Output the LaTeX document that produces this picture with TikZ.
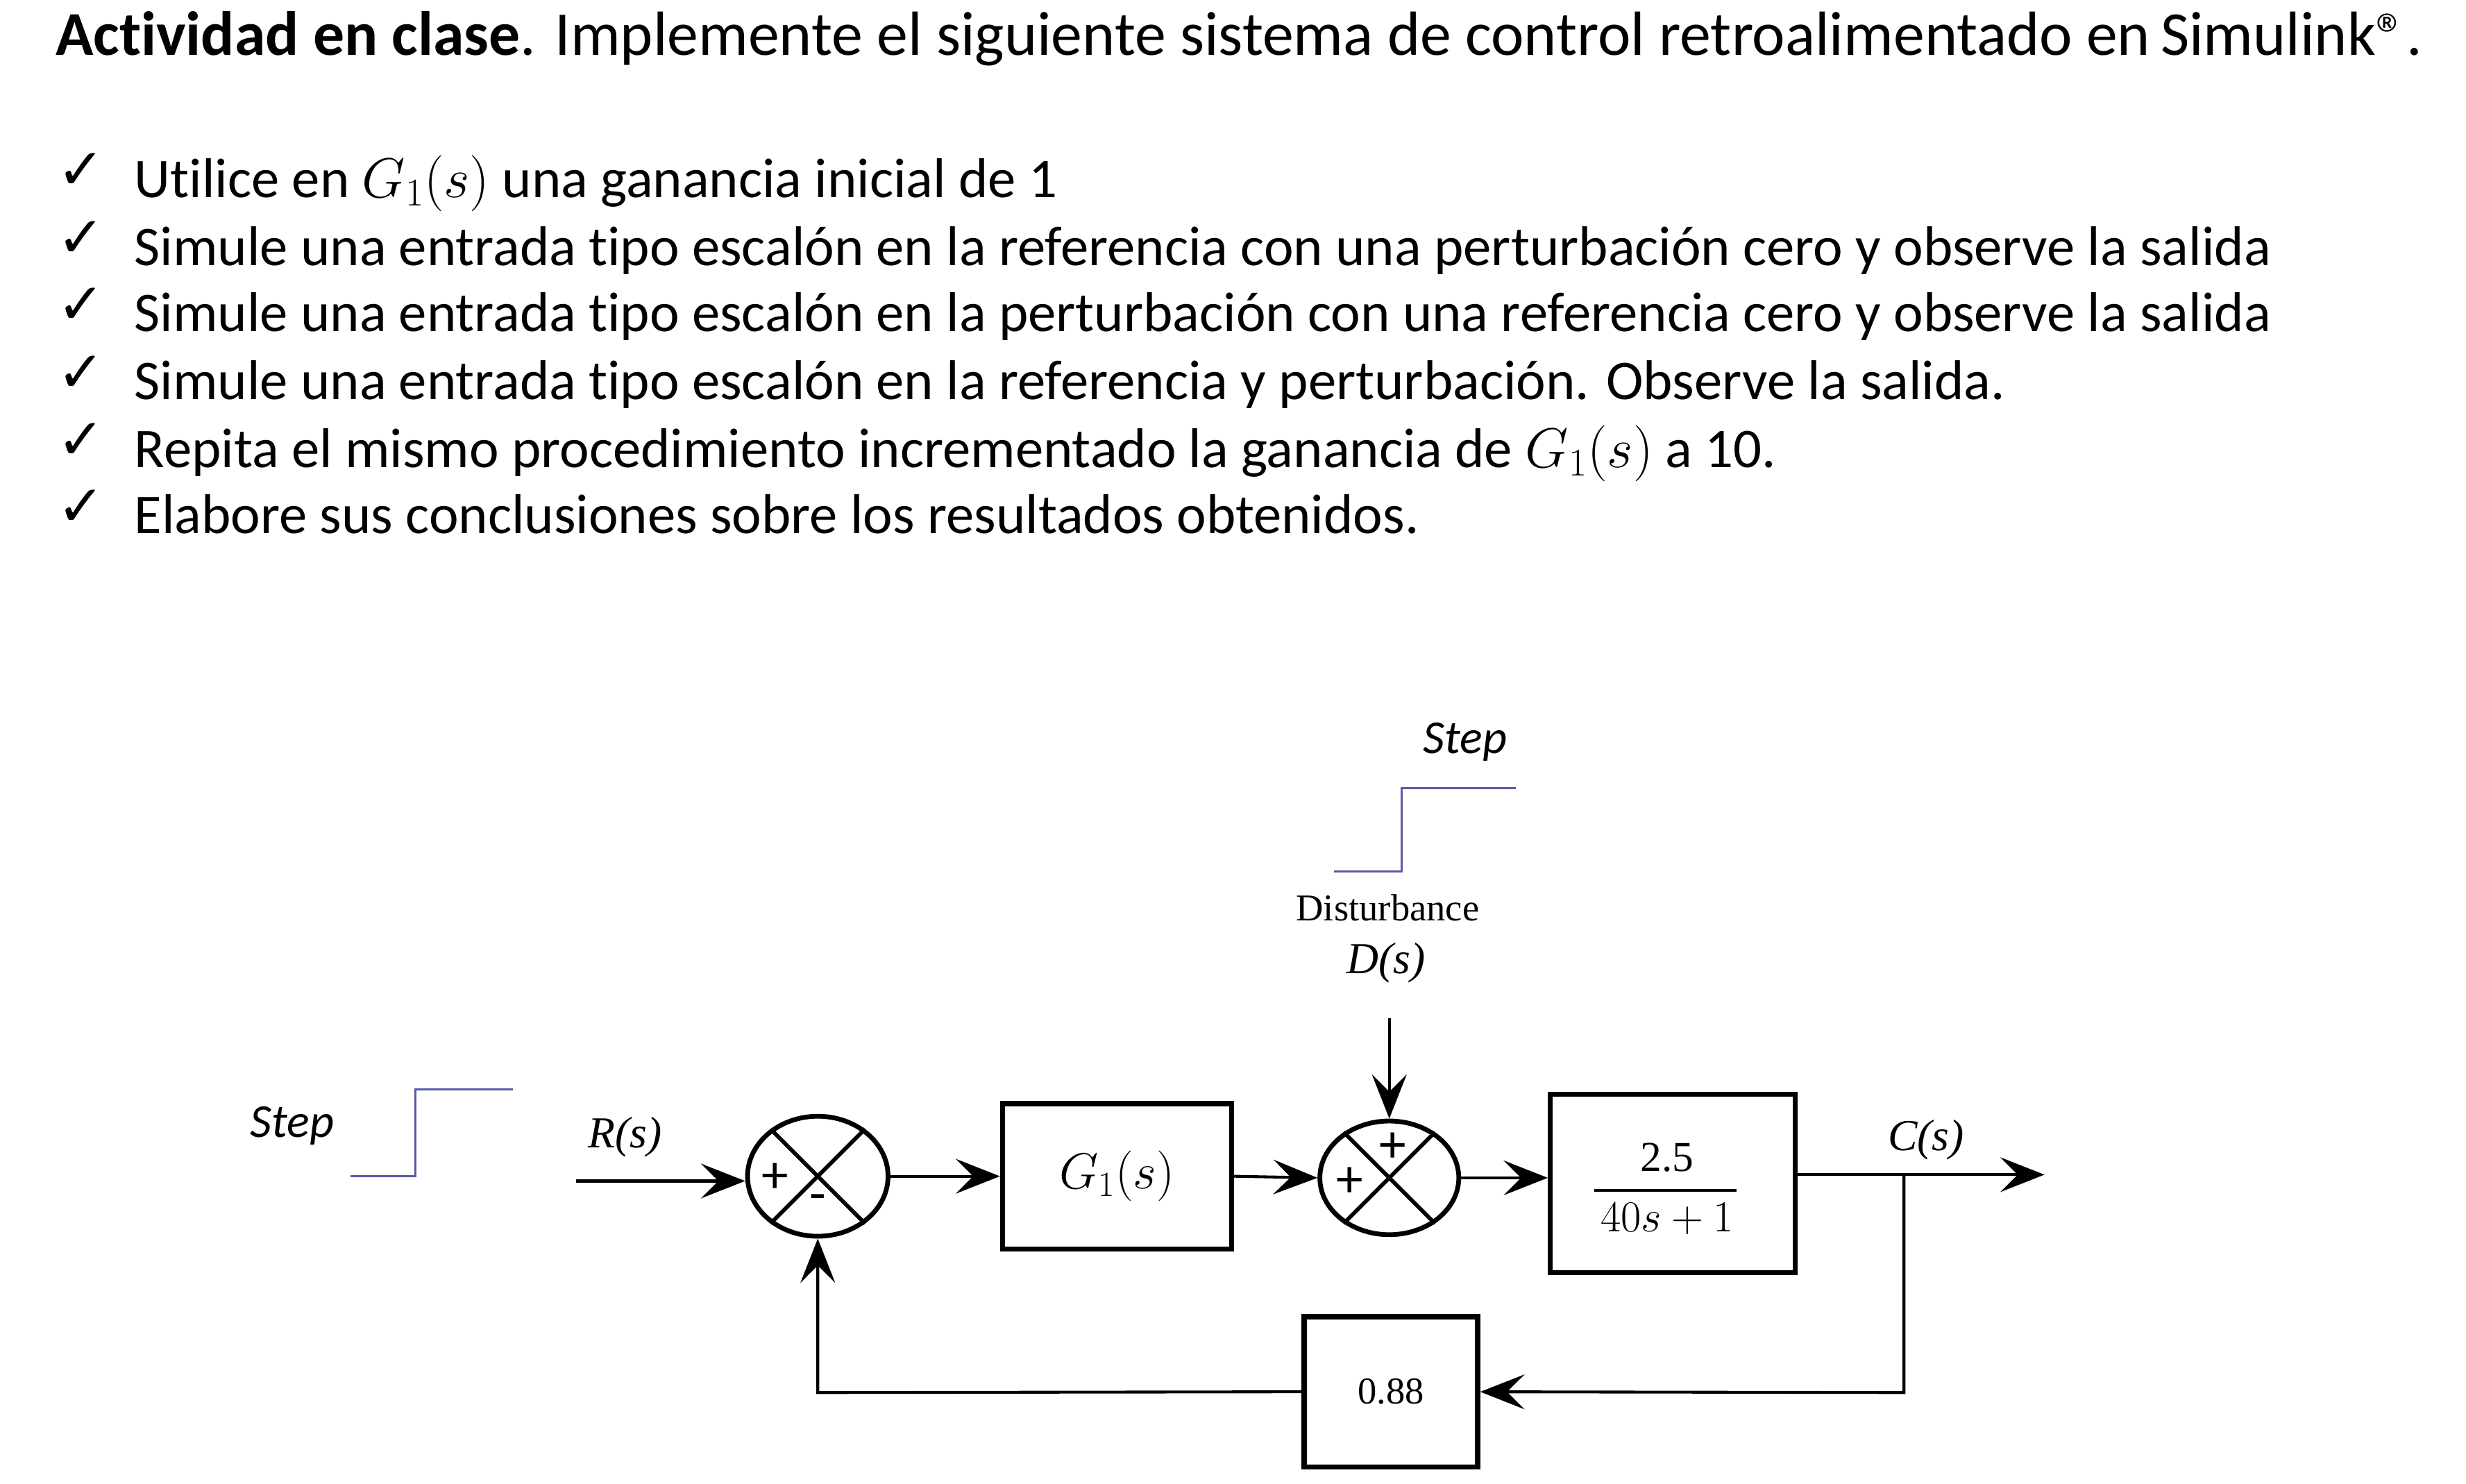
\RequirePackage{fix-cm}
\documentclass[tikz,border=0pt]{standalone}
\usepackage{amssymb}
\usepackage{fontspec}
\setmainfont{Carlito}[Ligatures=NoCommon]
\newfontfamily\tnr{Liberation Serif}
\newfontfamily\djv{DejaVu Sans}
\usetikzlibrary{arrows.meta,shapes.geometric}
\begin{document}
\begin{tikzpicture}[x=1pt,y=-1pt,
  txt/.style={anchor=base west,inner sep=0pt,font=\fontsize{35.5}{40}\selectfont},
  blk/.style={draw,line width=3.2pt,inner sep=0pt},
  sumj/.style={draw,ellipse,line width=3pt,inner sep=0pt},
  conn/.style={line width=1.8pt},
  arr/.style={conn,-{Stealth[length=28pt,width=22pt,inset=11pt]}},
  stepln/.style={line width=1.3pt,color=blue!30!gray},
  lbl/.style={inner sep=0pt,font=\fontsize{30}{34}\selectfont\itshape},
  sgn/.style={inner sep=0pt,font=\fontsize{34}{38}\selectfont}]
\useasboundingbox (0,0) rectangle (1562,939.5);
% text
\node[txt,font=\fontsize{39.5}{44}\selectfont] (title) at (35,35) {\textbf{Actividad en clase}. Implemente el siguiente sistema de control retroalimentado en\,Simulink{\fontsize{38}{38}\selectfont ®}.};
\foreach \y/\t [count=\i] in {125/{Utilice en $G_1(s)$ una ganancia inicial de 1},
 168/{Simule una entrada tipo escalón en la referencia con una perturbación cero y observe la salida},
 210/{Simule una entrada tipo escalón en la perturbación con una referencia cero y observe la salida},
 253/{Simule una entrada tipo escalón en la referencia y perturbación. Observe la salida.},
 296/{Repita el mismo procedimiento incrementado la ganancia de $G_1(s)$ a 10.},
 338/{Elabore sus conclusiones sobre los resultados obtenidos.}}{
  \node[txt,font=\fontsize{36}{40}\selectfont\djv] (ck\i) at (36,\y-5) {✓};
  \node[txt] (b\i) at (85,\y) {\t};
}
% diagram
\node[lbl] (step1) at (185,713) {Step};
\draw[stepln] (222,745) -- (263,745) -- (263,690) -- (325,690);
\node[lbl,font=\fontsize{28}{32}\selectfont\tnr\itshape] (R) at (396,720) {R(s)};
\coordinate (rin) at (365,748);
\node[sumj,minimum width=89pt,minimum height=76pt] (s1) at (518,745) {};
\draw[line width=2.5pt] (s1.45) -- (s1.225) (s1.135) -- (s1.315);
\node[sgn] (p1) at (491,746) {+};
\node[sgn] (m1) at (518,762) {-};
\node[blk,minimum width=145pt,minimum height=92pt] (G) at (707.5,745) {\fontsize{32}{38}\selectfont$G_1(s)$};
\node[sumj,minimum width=88pt,minimum height=72pt] (s2) at (880,746) {};
\draw[line width=2.5pt] (s2.45) -- (s2.225) (s2.135) -- (s2.315);
\node[sgn] (p2) at (855,749) {+};
\node[sgn] (p3) at (882,727) {+};
\node[blk,minimum width=155pt,minimum height=113pt] (P) at (1059.5,749.5) {};
\node[inner sep=0pt,font=\fontsize{27}{30}\selectfont] (num) at (1056,733) {\tnr 2.5};
\draw[line width=1.5pt] (1010,754) -- (1100,754);
\node[inner sep=0pt,font=\fontsize{28}{30}\selectfont] (den) at (1056,772) {$40s+1$};
\coordinate (cout) at (1295,744);
\node[lbl,font=\fontsize{28}{32}\selectfont\tnr\itshape] (C) at (1220,722) {C(s)};
\coordinate (br) at (1206,744);
\coordinate (brd) at (1206,882);
\node[blk,minimum width=110pt,minimum height=95pt,font=\fontsize{24}{28}\selectfont\tnr] (H) at (881,881.5) {0.88};
\coordinate (fb) at (518,882);
% disturbance
\node[lbl] (step2) at (928,470) {Step};
\draw[stepln] (845,552) -- (888,552) -- (888,499) -- (960,499);
\node[inner sep=0pt,font=\fontsize{24}{28}\selectfont\tnr] (dist) at (879,575) {Disturbance};
\node[lbl,font=\fontsize{28}{32}\selectfont\tnr\itshape] (D) at (878,610) {D(s)};
\coordinate (din) at (880,645);
% connectors
\draw[arr] (rin) -- (s1.west |- rin);
\draw[arr] (s1.east) -- (G.west);
\draw[arr] (G.east) -- (s2.west);
\draw[arr] (s2.east) -- (P.west |- s2.east);
\draw[arr] (P.east |- cout) -- (cout);
\draw[arr] (br) -- (brd) -- (H.east);
\draw[arr] (H.west) -- (fb) -- (s1.south);
\draw[arr] (din) -- (s2.north);
\end{tikzpicture}
\end{document}
